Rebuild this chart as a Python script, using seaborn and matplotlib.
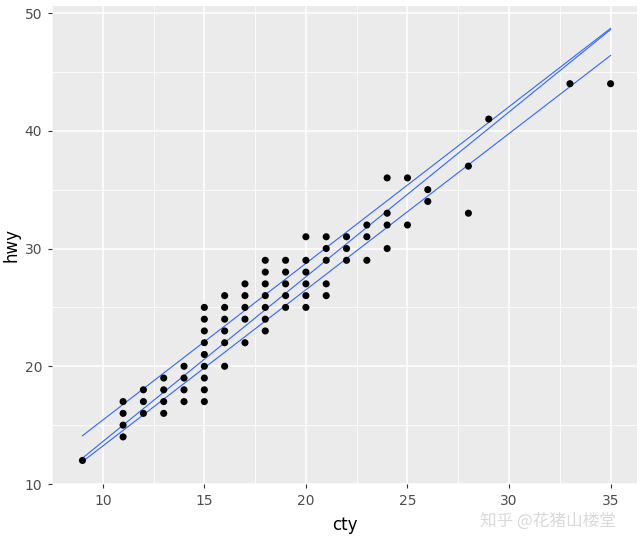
import matplotlib.pyplot as plt
import seaborn as sns
import numpy as np
import pandas as pd

# distinct (cty, hwy) points
cty_hwy = {
    9: [12],
    11: [14, 15, 16, 17],
    12: [16, 17, 18],
    13: [16, 17, 18, 19],
    14: [17, 18, 19, 20],
    15: [17, 18, 19, 20, 21, 22, 23, 24, 25],
    16: [20, 22, 23, 24, 25, 26],
    17: [22, 24, 25, 26, 27],
    18: [23, 24, 25, 26, 27, 28, 29],
    19: [25, 26, 27, 28, 29],
    20: [25, 26, 27, 28, 29, 31],
    21: [26, 27, 29, 30, 31],
    22: [29, 30, 31],
    23: [29, 31, 32],
    24: [30, 32, 33, 36],
    25: [32, 36],
    26: [34, 35],
    28: [33, 37],
    29: [41],
    33: [44],
    35: [44],
}
cty = [c for c, hs in cty_hwy.items() for h in hs]
hwy = [h for c, hs in cty_hwy.items() for h in hs]
points = pd.DataFrame({"cty": cty, "hwy": hwy})

# quantile regression lines (fitted hwy at cty = 9 and cty = 35)
quantiles = ["0.25", "0.5", "0.75"]
line_x = [9, 35]
fit_start = [11.9, 12.2, 14.1]
fit_end = [46.4, 48.6, 48.7]
lines = pd.DataFrame({
    "cty": line_x * 3,
    "hwy": [v for s, e in zip(fit_start, fit_end) for v in (s, e)],
    "quantile": [q for q in quantiles for _ in line_x],
})

fig = plt.figure(figsize=(6.43, 5.4), dpi=100)
ax = fig.add_axes([52 / 643, 56 / 540, 585 / 643, 478 / 540])
ax.set_facecolor("#EBEBEB")

sns.lineplot(data=lines, x="cty", y="hwy", units="quantile", estimator=None,
             color="#3366FF", linewidth=0.8, ax=ax, zorder=3)
sns.scatterplot(data=points, x="cty", y="hwy", color="black", s=26,
                edgecolor="none", ax=ax, zorder=4)

ax.set_xlim(7.7, 36.3)
ax.set_ylim(10.16, 50.6)
ax.set_xticks([10, 15, 20, 25, 30, 35])
ax.set_yticks([10, 20, 30, 40, 50])
ax.set_xticks([7.5, 12.5, 17.5, 22.5, 27.5, 32.5], minor=True)
ax.set_yticks([15, 25, 35, 45], minor=True)
ax.grid(which="major", color="white", linewidth=1.1)
ax.grid(which="minor", color="white", linewidth=0.55)
ax.set_axisbelow(True)
for sp in ax.spines.values():
    sp.set_visible(False)
ax.tick_params(which="major", length=3, width=0.8, color="#333333",
               labelsize=10, labelcolor="#4D4D4D", pad=4)
ax.tick_params(which="minor", length=0)
ax.set_xlabel("cty", fontsize=12, color="black", labelpad=6)
ax.set_ylabel("hwy", fontsize=12, color="black", labelpad=3)

# watermark
fig.text(548 / 643, 1 - 521 / 540, "知乎 @花猪山楼堂", fontsize=12,
         family=["Noto Sans CJK SC", "DejaVu Sans"], color="#D9D9D9",
         ha="center", va="center")

fig.savefig("out.png", dpi=100)
